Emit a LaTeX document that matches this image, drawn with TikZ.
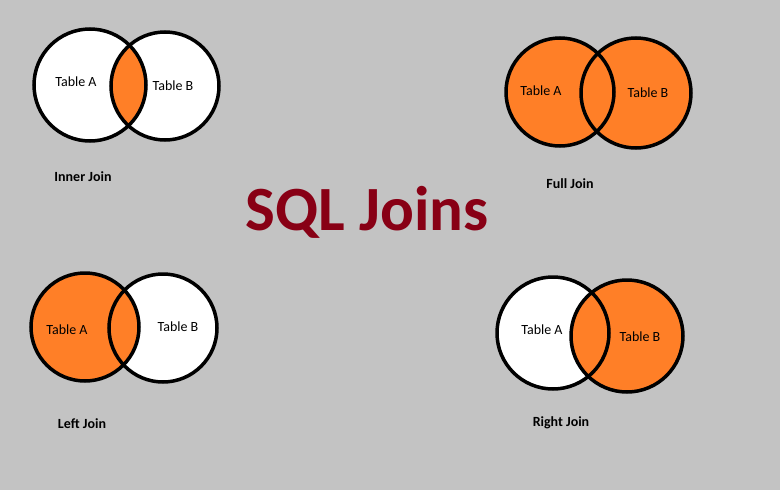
\documentclass[tikz,border=0pt]{standalone}
\usepackage{fontspec}
\setmainfont{Carlito}
\definecolor{bg}{HTML}{C3C3C3}
\definecolor{org}{HTML}{FF7F27}
\definecolor{ttl}{HTML}{880015}
\begin{document}
\begin{tikzpicture}[x=1pt,y=-1pt,
  ring/.style={draw=black,line width=3.5pt},
  lbl/.style={font=\fontsize{14}{16}\selectfont},
  joincap/.style={font=\fontsize{14}{16}\selectfont\bfseries}]
\fill[bg] (0,0) rectangle (780,490);
\useasboundingbox (0,0) rectangle (780,490);
% Inner join
\fill[white] (90,85) circle (56); \fill[white] (165,86) circle (54);
\begin{scope}\clip (90,85) circle (56); \fill[org] (165,86) circle (54);\end{scope}
\draw[ring] (90,85) circle (56); \draw[ring] (165,86) circle (54);
\node[lbl] (ia) at (76,82) {Table A};
\node[lbl] (ib) at (173,86) {Table B};
\node[joincap] (ij) at (83,177) {Inner Join};
% Full join
\fill[org] (560,92) circle (54); \fill[org] (636,93) circle (55);
\draw[ring] (560,92) circle (54); \draw[ring] (636,93) circle (55);
\node[lbl] (fa) at (541,91) {Table A};
\node[lbl] (fb) at (648,93) {Table B};
\node[joincap] (fj) at (570,184) {Full Join};
% Left join
\fill[org] (85,327) circle (54); \fill[white] (163,328) circle (54);
\begin{scope}\clip (85,327) circle (54); \fill[org] (163,328) circle (54);\end{scope}
\draw[ring] (85,327) circle (54); \draw[ring] (163,328) circle (54);
\node[lbl] (la) at (67,330) {Table A};
\node[lbl] (lb) at (178,327) {Table B};
\node[joincap] (lj) at (82,424) {Left Join};
% Right join
\fill[white] (553,333) circle (56); \fill[org] (627,336) circle (56);
\draw[ring] (553,333) circle (56); \draw[ring] (627,336) circle (56);
\node[lbl] (ra) at (542,330) {Table A};
\node[lbl] (rb) at (640,337) {Table B};
\node[joincap] (rj) at (561,423) {Right Join};
% Title
\node[font=\fontsize{63}{65}\selectfont\bfseries,text=ttl] (t) at (367,212) {SQL Joins};
\end{tikzpicture}
\end{document}
